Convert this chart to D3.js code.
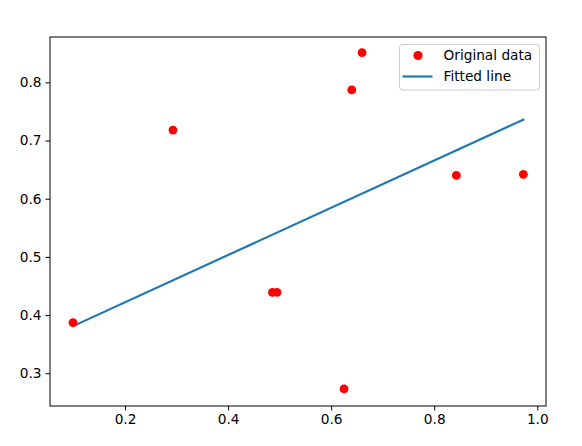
<!DOCTYPE html>
<html>
<head>
<meta charset="utf-8">
<script src="https://cdn.jsdelivr.net/npm/d3@7"></script>
<style>
  html, body { margin: 0; padding: 0; background: #fff; }
  svg { display: block; font-family: "DejaVu Sans", sans-serif; }
</style>
</head>
<body>
<svg id="chart"></svg>
<script>
// original data points
const dataX = [0.099, 0.293, 0.486, 0.495, 0.660, 0.640, 0.843, 0.973, 0.625];
const dataY = [0.387, 0.718, 0.439, 0.439, 0.851, 0.787, 0.640, 0.642, 0.273];

// fitted line end points
const fitX = [0.099, 0.973];
const fitY = [0.381, 0.736];

const xTicks = [0.2, 0.4, 0.6, 0.8, 1.0];
const yTicks = [0.3, 0.4, 0.5, 0.6, 0.7, 0.8];

const legendLabels = ["Original data", "Fitted line"];

const width = 582, height = 446;
const margin = { left: 50, right: 36, top: 37, bottom: 40 };

const svg = d3.select("#chart")
    .attr("width", width)
    .attr("height", height);

const x = d3.scaleLinear()
    .domain([0.0544, 1.0169])
    .range([margin.left, width - margin.right]);

const y = d3.scaleLinear()
    .domain([0.2437, 0.878])
    .range([height - margin.bottom, margin.top]);

// fitted line
svg.append("path")
    .datum(fitX.map((d, i) => [d, fitY[i]]))
    .attr("d", d3.line().x(d => x(d[0])).y(d => y(d[1])))
    .style("fill", "none")
    .style("stroke", "#1f77b4")
    .style("stroke-width", 2.2)
    .style("stroke-linecap", "square");

// scatter points
svg.selectAll(".dot")
    .data(dataX.map((d, i) => [d, dataY[i]]))
    .enter().append("circle")
    .attr("class", "dot")
    .attr("cx", d => x(d[0]))
    .attr("cy", d => y(d[1]))
    .attr("r", 4.4)
    .attr("fill", "#ff0000");

// axes
const xAxis = svg.append("g")
    .attr("transform", `translate(0,${height - margin.bottom})`)
    .call(d3.axisBottom(x).tickValues(xTicks).tickFormat(d3.format(".1f")).tickSizeInner(4.5).tickSizeOuter(0).tickPadding(4));

const yAxis = svg.append("g")
    .attr("transform", `translate(${margin.left},0)`)
    .call(d3.axisLeft(y).tickValues(yTicks).tickFormat(d3.format(".1f")).tickSizeInner(4.5).tickSizeOuter(0).tickPadding(4));

[xAxis, yAxis].forEach(a => {
    a.select(".domain").remove();
    a.selectAll("text")
        .attr("fill", "#000")
        .style("font-size", "13.7px")
        .style("font-family", "DejaVu Sans");
    a.selectAll("line").attr("stroke", "#000").attr("stroke-width", 1);
});

// frame
svg.append("rect")
    .attr("x", margin.left)
    .attr("y", margin.top)
    .attr("width", width - margin.left - margin.right)
    .attr("height", height - margin.top - margin.bottom)
    .attr("fill", "none")
    .attr("stroke", "#000")
    .attr("stroke-width", 1);

// legend
const legend = svg.append("g").attr("transform", "translate(399.5,44.5)");

legend.append("rect")
    .attr("width", 140)
    .attr("height", 45.5)
    .attr("rx", 3)
    .attr("fill", "#fff")
    .attr("fill-opacity", 0.8)
    .attr("stroke", "#ccc")
    .attr("stroke-width", 1);

legend.append("circle")
    .attr("cx", 18.5)
    .attr("cy", 11)
    .attr("r", 4.6)
    .attr("fill", "#ff0000");

legend.append("line")
    .attr("x1", 3)
    .attr("x2", 33)
    .attr("y1", 32)
    .attr("y2", 32)
    .attr("stroke", "#1f77b4")
    .attr("stroke-width", 2.2);

legend.selectAll(".lbl")
    .data(legendLabels)
    .enter().append("text")
    .attr("class", "lbl")
    .attr("x", 44)
    .attr("y", (d, i) => 15.8 + i * 21)
    .style("font-size", "13.7px")
    .attr("fill", "#000")
    .text(d => d);
</script>
</body>
</html>
